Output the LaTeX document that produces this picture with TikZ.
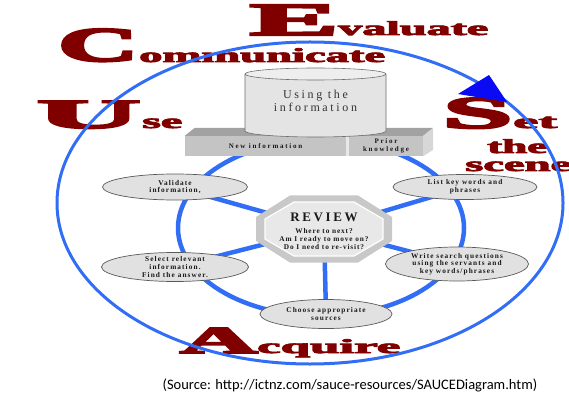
\documentclass[tikz,border=0pt]{standalone}
\usepackage{fontspec}
\usepackage{graphicx}
\setmainfont{Liberation Serif}
\newfontfamily\srcfont{Carlito}
\newfontfamily\cylfont{Liberation Serif}[LetterSpace=22]
\newfontfamily\slabfont{Liberation Serif}[LetterSpace=25]
\newfontfamily\bubfont{Liberation Serif}[LetterSpace=15]
\newfontfamily\revfont{Liberation Serif}[LetterSpace=12]
\newfontfamily\revbigfont{Liberation Serif}[LetterSpace=20]
\newfontfamily\widecapfont{Liberation Serif Bold}[FakeBold=4.5]
\newfontfamily\widelowfont{Liberation Serif Bold}[FakeBold=3.5]
\usetikzlibrary{shapes.geometric,backgrounds}
\definecolor{sauceRed}{RGB}{128,0,0}
\definecolor{ringBlue}{RGB}{50,110,245}
\definecolor{arrowBlue}{RGB}{10,10,245}
\definecolor{ellFill}{RGB}{225,225,225}
\definecolor{ellDraw}{RGB}{90,90,90}
\definecolor{slabFront}{RGB}{196,196,196}
\definecolor{slabTop}{RGB}{162,162,162}
\definecolor{slabSide}{RGB}{215,215,215}
\definecolor{slabGap}{RGB}{232,232,232}
\definecolor{cylFill}{RGB}{228,228,228}
\definecolor{cylTop}{RGB}{238,238,238}
\definecolor{cylDraw}{RGB}{110,110,110}
\definecolor{octOut}{RGB}{200,200,200}
\definecolor{octIn}{RGB}{232,232,232}
\newcommand\capL[3]{\resizebox{#1pt}{#2pt}{\widecapfont\fontsize{40}{40}\selectfont #3}}
\newcommand\lowL[2]{\resizebox{#1pt}{\height}{\widelowfont\fontsize{20}{20}\selectfont #2}}
\begin{document}
\begin{tikzpicture}[x=1pt,y=-1pt,
  capletter/.style={inner sep=0pt, anchor=base west, text=sauceRed},
  outerring/.style={draw=ringBlue, line width=3pt},
  innerring/.style={draw=ringBlue, line width=4.5pt},
  spoke/.style={draw=ringBlue, line width=4.5pt},
  bubble/.style={ellipse, draw=ellDraw, fill=ellFill, line width=0.7pt, inner sep=0pt,
     align=center, text=black!90, font=\bubfont\bfseries\fontsize{7.3}{7.6}\selectfont},
  slabface/.style={rectangle, fill=slabFront, inner sep=0pt, minimum height=20pt,
     align=center, text=black!90, font=\slabfont\bfseries\fontsize{7}{7.5}\selectfont},
  cyl/.style={draw=cylDraw, line width=0.6pt}
]
\useasboundingbox (0,0) rectangle (569,403);

% big SAUCE words
\node[capletter] (cE) at (250,35) {\capL{88}{30}{E}};
\node[capletter] (wE) at (338,35) {\lowL{150}{valuate}};
\node[capletter] (cC) at (58,61) {\capL{80}{32}{C}};
\node[capletter] (wC) at (139,62) {\lowL{246}{ommunicate}};
\node[capletter] (cU) at (37,128) {\capL{103}{27}{U}};
\node[capletter] (wU) at (142,128) {\lowL{40}{se}};
\node[capletter] (cS) at (443,128) {\capL{69}{30}{S}};
\node[capletter] (wS) at (513,128) {\lowL{44}{et}};
\node[capletter] (wThe) at (487,153) {\lowL{60}{the}};
\node[capletter] (wScene) at (465,171) {\lowL{106}{scene}};
\node[capletter] (cA) at (180,353) {\capL{77}{25}{A}};
\node[capletter] (wA) at (257,353) {\lowL{143}{cquire}};

% outer cycle with arrow
\draw[outerring] (310,203) ellipse [x radius=253, y radius=161];
\fill[arrowBlue] (458,94) -- (489,75) -- (507,102) -- cycle;

% slab
\fill[slabGap] (185,136) rectangle (423,156);
\node[slabface, minimum width=161pt] (newinfo) at (265.5,146) {New\enspace information};
\node[slabface, minimum width=74pt] (prior) at (386,146) {Prior\\knowledge};
\fill[slabTop] (newinfo.north west) -- ++(10,-8) -- ([xshift=10pt,yshift=8pt]prior.north east) -- (prior.north east) -- cycle;
\fill[slabSide] (prior.north east) -- ++(10,-8) -- ++(0,22) -- (prior.south east) -- cycle;

% cylinder
\coordinate (cyltop) at (315.5,74);
\filldraw[cyl, fill=cylFill] (245,74) -- (245,131) arc[start angle=180, end angle=0, x radius=70.5, y radius=6] -- (386,74);
\filldraw[cyl, fill=cylTop] (cyltop) ellipse [x radius=70.5, y radius=6];
\node[align=center, inner sep=0pt, text=black!80, font=\cylfont\fontsize{12}{13}\selectfont] (using) at (315.5,101) {Using the\\information};

% task ellipses
\node[bubble, minimum width=145pt, minimum height=26pt] (val) at (175,187) {Validate\\information,};
\node[bubble, minimum width=144pt, minimum height=25pt] (list) at (465,187) {List key words and\\phrases};
\node[bubble, minimum width=147pt, minimum height=29pt] (sel) at (175,267) {Select relevant\\information.\\Find the answer.};
\node[bubble, minimum width=143pt, minimum height=34pt] (write) at (457,264) {Write search questions\\using the servants and\\key words/phrases};
\node[bubble, minimum width=132pt, minimum height=29pt] (choose) at (326,314) {Choose appropriate\\sources};

% review
\coordinate (revc) at (324,229);
\node[align=center, inner sep=0pt, text=black!90, font=\revfont\bfseries\fontsize{7.3}{8}\selectfont] (rev) at (324,231)
  {{\revbigfont\fontsize{13}{13}\selectfont REVIEW}\\[4pt]Where to next?\\Am I ready to move on?\\Do I need to re-visit?};

\begin{scope}[on background layer]
\draw[innerring] (321,228) ellipse [x radius=143, y radius=88];
\foreach \n in {val,list,sel,write,choose} \draw[spoke] (revc) -- (\n.center);
\path[shift={(revc)}, fill=octOut] (-34,-33.5) -- (34,-33.5) -- (68,-12) -- (68,12) -- (34,33.5) -- (-34,33.5) -- (-68,12) -- (-68,-12) -- cycle;
\path[shift={(revc)}, fill=octIn, draw=white, line width=1.2pt] (-30,-27) -- (30,-27) -- (59,-10) -- (59,10) -- (30,27) -- (-30,27) -- (-59,10) -- (-59,-10) -- cycle;
\end{scope}

% source
\node[inner sep=0pt, font=\srcfont\fontsize{14.5}{16}\selectfont] (src) at (350,385) {(Source: http://ictnz.com/sauce-resources/SAUCEDiagram.htm)};
\end{tikzpicture}
\end{document}
